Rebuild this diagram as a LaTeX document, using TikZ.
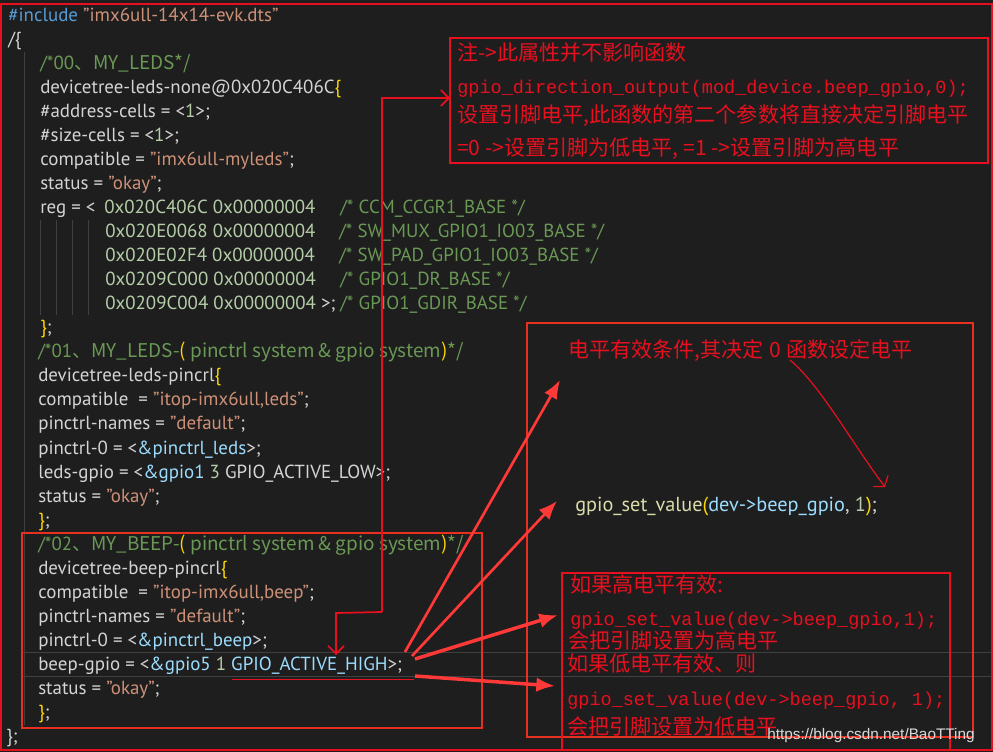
\documentclass[tikz,border=0pt]{standalone}
\usepackage{fontspec}
\setmainfont{PT Sans}
\newfontfamily\cjk{Noto Sans CJK SC}
\newfontfamily\monof{Liberation Mono}
\newfontfamily\wm{Liberation Sans}
\usetikzlibrary{arrows.meta}
\definecolor{bg}{HTML}{1E1E1E}
\definecolor{ctext}{HTML}{D4D4D4}
\definecolor{cstr}{HTML}{CE9178}
\definecolor{ccom}{HTML}{6A9955}
\definecolor{cnum}{HTML}{B5CEA8}
\definecolor{cblue}{HTML}{569CD6}
\definecolor{clb}{HTML}{9CDCFE}
\definecolor{cyel}{HTML}{FFD700}
\definecolor{cfn}{HTML}{DCDCAA}
\definecolor{cred}{HTML}{E8101E}
\definecolor{cthin}{HTML}{E83020}
\definecolor{carrow}{HTML}{FF3838}
\definecolor{cguide}{HTML}{404040}
\newcommand{\Str}[1]{\textcolor{cstr}{#1}}
\newcommand{\Cm}[1]{\textcolor{ccom}{#1}}
\newcommand{\Num}[1]{\textcolor{cnum}{#1}}
\newcommand{\Lb}[1]{\textcolor{clb}{#1}}
\newcommand{\Yl}[1]{\textcolor{cyel}{#1}}
\begin{document}
\begin{tikzpicture}[x=0.75pt,y=-0.75pt,
  code/.style={anchor=base west,inner sep=0pt,text=ctext,font=\fontsize{14.2}{16}\selectfont},
  note/.style={anchor=base west,inner sep=0pt,text=cred,font=\cjk\fontsize{15.8}{17}\selectfont},
  mono/.style={anchor=base west,inner sep=0pt,text=cred,font=\monof\fontsize{13.9}{16}\selectfont},
  redbox/.style={draw=cred,line width=1.6pt},
  thinbox/.style={draw=cthin,line width=0.8pt},
  fat/.style={draw=carrow,line width=2.6pt,-{Latex[length=14pt,width=11pt]}},
  guide/.style={draw=cguide,line width=0.6pt}]
\useasboundingbox (0,0) rectangle (993,752);
\fill[bg] (0,0) rectangle (993,752);
% indent guides
\draw[guide] (24,52) -- (24,725);
\draw[guide] (40,220) -- (40,315);
\draw[guide] (56,220) -- (56,315);
\draw[guide] (72,220) -- (72,315);
\draw[guide] (88,220) -- (88,315);
\draw[guide] (22,652) -- (993,652);
\draw[guide] (22,676) -- (993,676);
% code
\node[code] (l1) at (8,22) {\textcolor{cblue}{\#include} \Str{"imx6ull-14x14-evk.dts"}};
\node[code] (l2) at (8,46) {/\{};
\node[code] (l3) at (40,70) {\Cm{/*00\cjk{、}MY\_LEDS*/}};
\node[code] (l4) at (40,94) {devicetree-leds-none@0x020C406C\Yl{\{}};
\node[code] (l5) at (40,118) {\#address-cells = <\Num{1}>;};
\node[code] (l6) at (40,142) {\#size-cells = <\Num{1}>;};
\node[code] (l7) at (40,166) {compatible = \Str{"imx6ull-myleds"};};
\node[code] (l8) at (40,190) {status = \Str{"okay"};};
\node[code] (l9) at (40,214) {reg = <};
\node[code] (r1) at (104,214) {\Num{0x020C406C 0x00000004}};
\node[code] (r2) at (105,238) {\Num{0x020E0068 0x00000004}};
\node[code] (r3) at (105,262) {\Num{0x020E02F4 0x00000004}};
\node[code] (r4) at (105,286) {\Num{0x0209C000 0x00000004}};
\node[code] (r5) at (105,310) {\Num{0x0209C004 0x00000004} >;};
\node[code] (c1) at (340,214) {\Cm{/* CCM\_CCGR1\_BASE */}};
\node[code] (c2) at (339,238) {\Cm{/* SW\_MUX\_GPIO1\_IO03\_BASE */}};
\node[code] (c3) at (339,262) {\Cm{/* SW\_PAD\_GPIO1\_IO03\_BASE */}};
\node[code] (c4) at (340,286) {\Cm{/* GPIO1\_DR\_BASE */}};
\node[code] (c5) at (340,310) {\Cm{/* GPIO1\_GDIR\_BASE */}};
\node[code] (l10) at (40,334) {\Yl{\}};};
\node[code] (l11) at (38,358) {\Cm{/*01\cjk{、}MY\_LEDS-\Yl{(} pinctrl system \& gpio system\Yl{)}*/}};
\node[code] (l12) at (38,382) {devicetree-leds-pincrl\Yl{\{}};
\node[code] (l13) at (38,406) {compatible~ = \Str{"itop-imx6ull,leds"};};
\node[code] (l14) at (38,430) {pinctrl-names = \Str{"default"};};
\node[code] (l15) at (38,454) {pinctrl-0 = <\Lb{\&pinctrl\_leds}>;};
\node[code] (l16) at (38,478) {leds-gpio = <\Lb{\&gpio1} \Num{3} GPIO\_ACTIVE\_LOW>;};
\node[code] (l17) at (38,502) {status = \Str{"okay"};};
\node[code] (l18) at (38,526) {\Yl{\}};};
\node[code] (l19) at (38,550) {\Cm{/*02\cjk{、}MY\_BEEP-\Yl{(} pinctrl system \& gpio system\Yl{)}*/}};
\node[code] (l20) at (38,574) {devicetree-beep-pincrl\Yl{\{}};
\node[code] (l21) at (38,598) {compatible~ = \Str{"itop-imx6ull,beep"};};
\node[code] (l22) at (38,622) {pinctrl-names = \Str{"default"};};
\node[code] (l23) at (38,646) {pinctrl-0 = <\Lb{\&pinctrl\_beep}>;};
\node[code] (l24) at (38,670) {beep-gpio = <\Lb{\&gpio5} \Num{1} \Lb{GPIO\_ACTIVE\_HIGH}>;};
\node[code] (l25) at (38,694) {status = \Str{"okay"};};
\node[code] (l26) at (38,718) {\Yl{\}};};
\node[code] (l27) at (6,742) {\};};
% frames
\draw[cred,line width=1.4pt] (1,4) rectangle (992,750);
\draw[redbox] (450,38) rectangle (988,163);
\draw[thinbox] (527,323) rectangle (973,737);
\draw[thinbox] (22,533) rectangle (482,728);
\draw[redbox] (562,573) rectangle (950,750);
% top note
\node[note] (n1) at (457,61) {注->此属性并不影响函数};
\node[mono] (n2) at (457,94) {gpio\_direction\_output(mod\_device.beep\_gpio,0);};
\begin{scope}
\clip (450,38) rectangle (990,163);
\node[note] (n3) at (457,123) {设置引脚电平,此函数的第二个参数将直接决定引脚电平};
\end{scope}
\node[note] (n4) at (457,156) {=0 ->设置引脚为低电平, =1 ->设置引脚为高电平};
% right notes
\node[note] (m1) at (568,358) {电平有效条件,其决定\hspace{4pt}0\hspace{4pt}函数设定电平};
\node[code,font=\fontsize{15.2}{17}\selectfont] (m2) at (575,511) {\textcolor{cfn}{gpio\_set\_value}\Yl{(}\Lb{dev->beep\_gpio}, \Num{1}\Yl{)};};
\node[note] (b1) at (570,592) {如果高电平有效:};
\node[mono] (b2) at (570,625) {gpio\_set\_value(dev->beep\_gpio,1);};
\node[note] (b3) at (568,648) {会把引脚设置为高电平};
\node[note] (b4) at (567,671) {如果低电平有效、则};
\node[mono] (b5) at (567,705) {gpio\_set\_value(dev->beep\_gpio, 1);};
\node[note] (b6) at (567,734) {会把引脚设置为低电平};
\node[anchor=base west,inner sep=0pt,text=white!85!black,font=\wm\fontsize{11.5}{13}\selectfont] (wmk) at (767,739) {https://blog.csdn.net/BaoTTing};
% underline
\draw[cred,line width=0.6pt] (232,679) -- (414,679);
% elbow connector
\coordinate (e0) at (336,655);
\coordinate (e1) at (450,98);
\draw[cred,line width=1.3pt,-{Straight Barb[length=6pt,width=12pt]}] (382,612) -- (382,98) -- (e1);
\draw[cred,line width=1.3pt,-{Straight Barb[length=6pt,width=12pt]}] (382,612) -- (336,613) -- (e0);
% thin curved arrow
\coordinate (z0) at (790,360);
\coordinate (z1) at (885,487);
\draw[cred,line width=0.9pt,-{Straight Barb[length=5pt,width=14pt]}] (z0) .. controls (820,385) and (850,440) .. (z1);
% fat arrows
\coordinate (s1) at (405,652);
\coordinate (s2) at (412,656);
\coordinate (s3) at (415,659);
\coordinate (s4) at (415,676);
\coordinate (t1) at (560,380);
\coordinate (t2) at (557,501);
\coordinate (t3) at (558,615);
\coordinate (t4) at (555,686);
\draw[fat,line width=2pt] (s1) -- (t1);
\draw[fat,line width=2pt] (s2) -- (t2);
\draw[fat] (s3) -- (t3);
\draw[fat] (s4) -- (t4);
\end{tikzpicture}
\end{document}
